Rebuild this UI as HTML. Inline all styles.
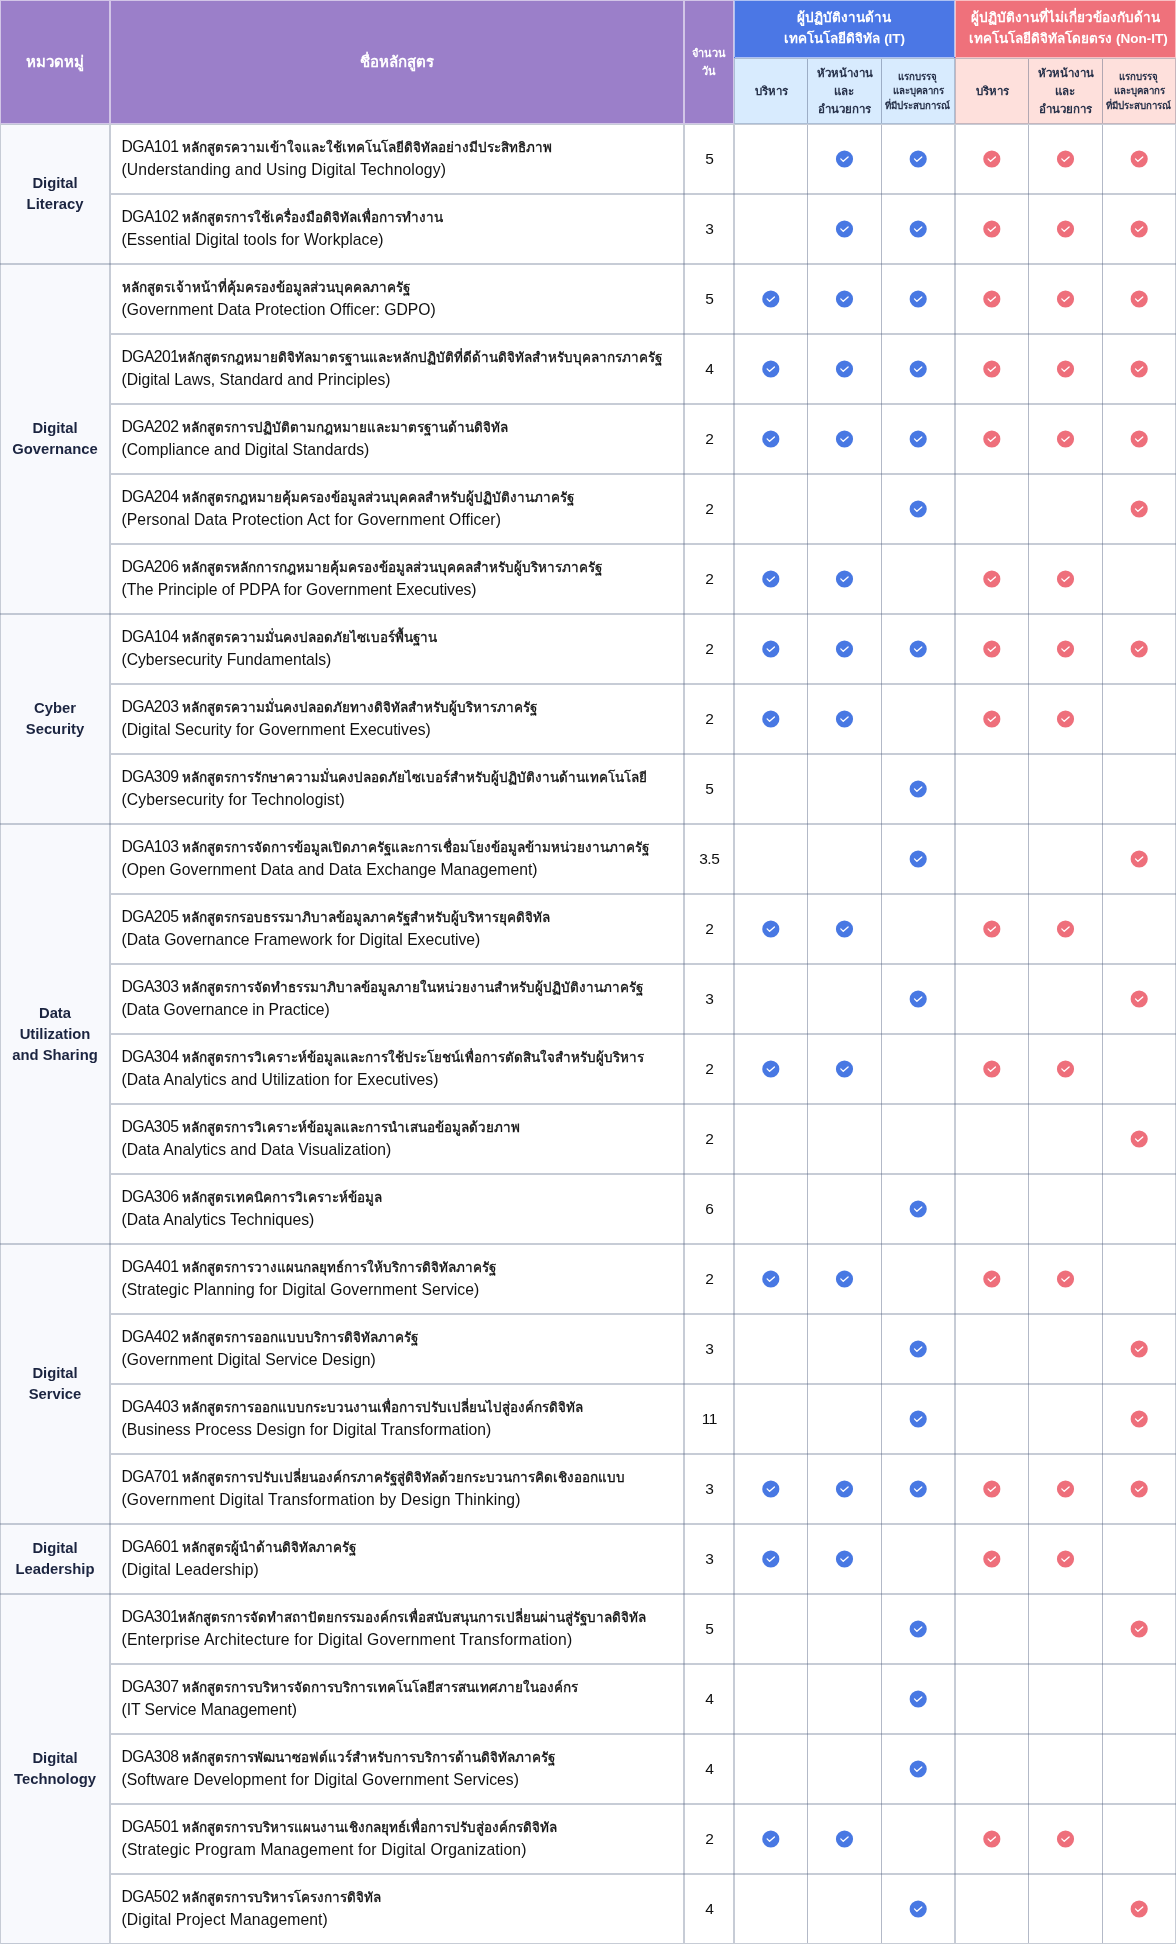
<!DOCTYPE html>
<html lang="th">
<head>
<meta charset="utf-8">
<title>DGA Courses</title>
<style>
*{margin:0;padding:0;box-sizing:border-box}
html,body{width:1176px;height:1944px;background:#fff;overflow:hidden}
body{font-family:"Liberation Sans",sans-serif;color:#111}
#tb{filter:opacity(1);position:relative;width:1176px;height:1944px;overflow:hidden;background:#fff}
#tb div,#tb svg{position:absolute}
.bg{top:0}
.cat{left:1px;width:108px;background:#f8f9fd;overflow:hidden}
.ct{left:0;right:0;top:50%;transform:translateY(-50%);text-align:center;font-weight:bold;font-size:14.8px;line-height:21px;color:#1b2440;white-space:nowrap}
.row{left:0;width:1176px;height:70px}
.l1,.l2{left:121.5px;height:23px;line-height:23px;font-size:15.7px;white-space:nowrap;overflow:hidden;color:#101010}
.l1{top:11px}
.cd{letter-spacing:-.55px}
.th{font-size:13.5px;-webkit-text-stroke:.3px #101010}
.l2{top:34px;width:560px}
.dy{left:685px;width:48px;top:23px;height:23px;line-height:23px;font-size:15.5px;letter-spacing:-.5px;padding-left:.5px;text-align:center;color:#101010}
.k{top:26px;width:18px;height:18px;overflow:visible}
.kb{fill:#4878e3}
.kr{fill:#ee6f7b}
.v,.hz{background:rgba(70,85,120,.3)}
.v1{background:rgba(70,85,120,.41)}
.w{background:rgba(255,255,255,.55)}
.h{color:#fff;font-weight:bold;text-align:center;white-space:nowrap;overflow:hidden}
.sh{color:#263049;font-weight:bold;text-align:center;white-space:nowrap;overflow:hidden}
</style>
</head>
<body>
<svg width="0" height="0" style="position:absolute"><defs><symbol id="ck" viewBox="0 0 18 18"><circle cx="9" cy="9" r="8.6"/><path d="M5.3 8.9 7.75 11.35 12.6 7" fill="none" stroke="#fff" stroke-width="1.3" stroke-linecap="round" stroke-linejoin="round"/></symbol></defs></svg>
<div id="tb">
<div class="bg" style="left:0;top:0;width:734px;height:124px;background:#9b7fc9"></div>
<div class="bg" style="left:734px;top:0;width:221px;height:58px;background:#4b77e5"></div>
<div class="bg" style="left:955px;top:0;width:221px;height:58px;background:#ef717b"></div>
<div class="bg" style="left:734px;top:58px;width:221px;height:66px;background:#d8ebfe"></div>
<div class="bg" style="left:955px;top:58px;width:221px;height:66px;background:#fee0dc"></div>
<div class="h" style="left:24.0px;top:48.5px;width:62.4px;height:26px;line-height:26px;font-size:15px">หมวดหมู่</div>
<div class="h" style="left:356.8px;top:48.5px;width:80.4px;height:26px;line-height:26px;font-size:15px">ชื่อหลักสูตร</div>
<div class="h" style="left:690.2px;top:44.0px;width:37.0px;height:18px;line-height:18px;font-size:11px">จำนวน</div>
<div class="h" style="left:700.0px;top:62.0px;width:17.0px;height:18px;line-height:18px;font-size:11px">วัน</div>
<div class="h" style="left:795.0px;top:7.0px;width:97.5px;height:21px;line-height:21px;font-size:13.5px">ผู้ปฏิบัติงานด้าน</div>
<div class="h" style="left:783.5px;top:28.0px;width:122.5px;height:21px;line-height:21px;font-size:13.5px">เทคโนโลยีดิจิทัล (IT)</div>
<div class="h" style="left:970.0px;top:7.0px;width:190.0px;height:21px;line-height:21px;font-size:13.5px">ผู้ปฏิบัติงานที่ไม่เกี่ยวข้องกับด้าน</div>
<div class="h" style="left:963.5px;top:28.0px;width:210.0px;height:21px;line-height:21px;font-size:13.5px">เทคโนโลยีดิจิทัลโดยตรง (Non-IT)</div>
<div class="sh" style="left:753.5px;top:82.0px;width:35.5px;height:18px;line-height:18px;font-size:11.5px">บริหาร</div>
<div class="sh" style="left:816.0px;top:64.0px;width:57.5px;height:18px;line-height:18px;font-size:11.5px">หัวหน้างาน</div>
<div class="sh" style="left:833.5px;top:82.0px;width:21.5px;height:18px;line-height:18px;font-size:11.5px">และ</div>
<div class="sh" style="left:816.0px;top:100.0px;width:57.5px;height:18px;line-height:18px;font-size:11.5px">อำนวยการ</div>
<div class="sh" style="left:896.0px;top:68.5px;width:42.5px;height:15px;line-height:15px;font-size:9.7px">แรกบรรจุ</div>
<div class="sh" style="left:890.0px;top:83.0px;width:56.0px;height:15px;line-height:15px;font-size:9.7px">และบุคลากร</div>
<div class="sh" style="left:882.5px;top:97.5px;width:70.0px;height:15px;line-height:15px;font-size:9.7px">ที่มีประสบการณ์</div>
<div class="sh" style="left:974.5px;top:82.0px;width:35.5px;height:18px;line-height:18px;font-size:11.5px">บริหาร</div>
<div class="sh" style="left:1037.0px;top:64.0px;width:57.5px;height:18px;line-height:18px;font-size:11.5px">หัวหน้างาน</div>
<div class="sh" style="left:1054.5px;top:82.0px;width:21.5px;height:18px;line-height:18px;font-size:11.5px">และ</div>
<div class="sh" style="left:1037.0px;top:100.0px;width:57.5px;height:18px;line-height:18px;font-size:11.5px">อำนวยการ</div>
<div class="sh" style="left:1117.0px;top:68.5px;width:42.5px;height:15px;line-height:15px;font-size:9.7px">แรกบรรจุ</div>
<div class="sh" style="left:1111.0px;top:83.0px;width:56.0px;height:15px;line-height:15px;font-size:9.7px">และบุคลากร</div>
<div class="sh" style="left:1103.5px;top:97.5px;width:70.0px;height:15px;line-height:15px;font-size:9.7px">ที่มีประสบการณ์</div>
<div class="cat" style="top:124px;height:140px"><div class="ct">Digital<br>Literacy</div></div>
<div class="cat" style="top:264px;height:350px"><div class="ct">Digital<br>Governance</div></div>
<div class="cat" style="top:614px;height:210px"><div class="ct">Cyber<br>Security</div></div>
<div class="cat" style="top:824px;height:420px"><div class="ct">Data<br>Utilization<br>and Sharing</div></div>
<div class="cat" style="top:1244px;height:280px"><div class="ct">Digital<br>Service</div></div>
<div class="cat" style="top:1524px;height:70px"><div class="ct">Digital<br>Leadership</div></div>
<div class="cat" style="top:1594px;height:350px"><div class="ct">Digital<br>Technology</div></div>
<div class="row" style="top:124px">
<div class="l1" style="width:431.0px"><span class="cd">DGA101 </span><span class="th">หลักสูตรความเข้าใจและใช้เทคโนโลยีดิจิทัลอย่างมีประสิทธิภาพ</span></div>
<div class="l2" style="letter-spacing:0.128px">(Understanding and Using Digital Technology)</div>
<div class="dy">5</div>
<svg class="k kb" style="left:835px"><use href="#ck" x="0.50"/></svg><svg class="k kb" style="left:909px"><use href="#ck" x="0.17"/></svg><svg class="k kr" style="left:982px"><use href="#ck" x="0.83"/></svg><svg class="k kr" style="left:1056px"><use href="#ck" x="0.50"/></svg><svg class="k kr" style="left:1130px"><use href="#ck" x="0.17"/></svg>
</div>
<div class="row" style="top:194px">
<div class="l1" style="width:333.5px"><span class="cd">DGA102 </span><span class="th">หลักสูตรการใช้เครื่องมือดิจิทัลเพื่อการทำงาน</span></div>
<div class="l2" style="letter-spacing:0.041px">(Essential Digital tools for Workplace)</div>
<div class="dy">3</div>
<svg class="k kb" style="left:835px"><use href="#ck" x="0.50"/></svg><svg class="k kb" style="left:909px"><use href="#ck" x="0.17"/></svg><svg class="k kr" style="left:982px"><use href="#ck" x="0.83"/></svg><svg class="k kr" style="left:1056px"><use href="#ck" x="0.50"/></svg><svg class="k kr" style="left:1130px"><use href="#ck" x="0.17"/></svg>
</div>
<div class="row" style="top:264px">
<div class="l1" style="width:303.7px"><span class="th">หลักสูตรเจ้าหน้าที่คุ้มครองข้อมูลส่วนบุคคลภาครัฐ</span></div>
<div class="l2" style="letter-spacing:-0.006px">(Government Data Protection Officer: GDPO)</div>
<div class="dy">5</div>
<svg class="k kb" style="left:761px"><use href="#ck" x="0.83"/></svg><svg class="k kb" style="left:835px"><use href="#ck" x="0.50"/></svg><svg class="k kb" style="left:909px"><use href="#ck" x="0.17"/></svg><svg class="k kr" style="left:982px"><use href="#ck" x="0.83"/></svg><svg class="k kr" style="left:1056px"><use href="#ck" x="0.50"/></svg><svg class="k kr" style="left:1130px"><use href="#ck" x="0.17"/></svg>
</div>
<div class="row" style="top:334px">
<div class="l1" style="width:558.4px"><span class="cd">DGA201</span><span class="th">หลักสูตรกฎหมายดิจิทัลมาตรฐานและหลักปฏิบัติที่ดีด้านดิจิทัลสำหรับบุคลากรภาครัฐ</span></div>
<div class="l2" style="letter-spacing:-0.034px">(Digital Laws, Standard and Principles)</div>
<div class="dy">4</div>
<svg class="k kb" style="left:761px"><use href="#ck" x="0.83"/></svg><svg class="k kb" style="left:835px"><use href="#ck" x="0.50"/></svg><svg class="k kb" style="left:909px"><use href="#ck" x="0.17"/></svg><svg class="k kr" style="left:982px"><use href="#ck" x="0.83"/></svg><svg class="k kr" style="left:1056px"><use href="#ck" x="0.50"/></svg><svg class="k kr" style="left:1130px"><use href="#ck" x="0.17"/></svg>
</div>
<div class="row" style="top:404px">
<div class="l1" style="width:397.9px"><span class="cd">DGA202 </span><span class="th">หลักสูตรการปฏิบัติตามกฎหมายและมาตรฐานด้านดิจิทัล</span></div>
<div class="l2" style="letter-spacing:0.005px">(Compliance and Digital Standards)</div>
<div class="dy">2</div>
<svg class="k kb" style="left:761px"><use href="#ck" x="0.83"/></svg><svg class="k kb" style="left:835px"><use href="#ck" x="0.50"/></svg><svg class="k kb" style="left:909px"><use href="#ck" x="0.17"/></svg><svg class="k kr" style="left:982px"><use href="#ck" x="0.83"/></svg><svg class="k kr" style="left:1056px"><use href="#ck" x="0.50"/></svg><svg class="k kr" style="left:1130px"><use href="#ck" x="0.17"/></svg>
</div>
<div class="row" style="top:474px">
<div class="l1" style="width:475.2px"><span class="cd">DGA204 </span><span class="th">หลักสูตรกฎหมายคุ้มครองข้อมูลส่วนบุคคลสำหรับผู้ปฏิบัติงานภาครัฐ</span></div>
<div class="l2" style="letter-spacing:0.092px">(Personal Data Protection Act for Government Officer)</div>
<div class="dy">2</div>
<svg class="k kb" style="left:909px"><use href="#ck" x="0.17"/></svg><svg class="k kr" style="left:1130px"><use href="#ck" x="0.17"/></svg>
</div>
<div class="row" style="top:544px">
<div class="l1" style="width:502.4px"><span class="cd">DGA206 </span><span class="th">หลักสูตรหลักการกฎหมายคุ้มครองข้อมูลส่วนบุคคลสำหรับผู้บริหารภาครัฐ</span></div>
<div class="l2" style="letter-spacing:-0.062px">(The Principle of PDPA for Government Executives)</div>
<div class="dy">2</div>
<svg class="k kb" style="left:761px"><use href="#ck" x="0.83"/></svg><svg class="k kb" style="left:835px"><use href="#ck" x="0.50"/></svg><svg class="k kr" style="left:982px"><use href="#ck" x="0.83"/></svg><svg class="k kr" style="left:1056px"><use href="#ck" x="0.50"/></svg>
</div>
<div class="row" style="top:614px">
<div class="l1" style="width:331.0px"><span class="cd">DGA104 </span><span class="th">หลักสูตรความมั่นคงปลอดภัยไซเบอร์พื้นฐาน</span></div>
<div class="l2" style="letter-spacing:-0.015px">(Cybersecurity Fundamentals)</div>
<div class="dy">2</div>
<svg class="k kb" style="left:761px"><use href="#ck" x="0.83"/></svg><svg class="k kb" style="left:835px"><use href="#ck" x="0.50"/></svg><svg class="k kb" style="left:909px"><use href="#ck" x="0.17"/></svg><svg class="k kr" style="left:982px"><use href="#ck" x="0.83"/></svg><svg class="k kr" style="left:1056px"><use href="#ck" x="0.50"/></svg><svg class="k kr" style="left:1130px"><use href="#ck" x="0.17"/></svg>
</div>
<div class="row" style="top:684px">
<div class="l1" style="width:434.3px"><span class="cd">DGA203 </span><span class="th">หลักสูตรความมั่นคงปลอดภัยทางดิจิทัลสำหรับผู้บริหารภาครัฐ</span></div>
<div class="l2" style="letter-spacing:0.015px">(Digital Security for Government Executives)</div>
<div class="dy">2</div>
<svg class="k kb" style="left:761px"><use href="#ck" x="0.83"/></svg><svg class="k kb" style="left:835px"><use href="#ck" x="0.50"/></svg><svg class="k kr" style="left:982px"><use href="#ck" x="0.83"/></svg><svg class="k kr" style="left:1056px"><use href="#ck" x="0.50"/></svg>
</div>
<div class="row" style="top:754px">
<div class="l1" style="width:538.8px"><span class="cd">DGA309 </span><span class="th">หลักสูตรการรักษาความมั่นคงปลอดภัยไซเบอร์สำหรับผู้ปฏิบัติงานด้านเทคโนโลยี</span></div>
<div class="l2" style="letter-spacing:0.094px">(Cybersecurity for Technologist)</div>
<div class="dy">5</div>
<svg class="k kb" style="left:909px"><use href="#ck" x="0.17"/></svg>
</div>
<div class="row" style="top:824px">
<div class="l1" style="width:539.9px"><span class="cd">DGA103 </span><span class="th">หลักสูตรการจัดการข้อมูลเปิดภาครัฐและการเชื่อมโยงข้อมูลข้ามหน่วยงานภาครัฐ</span></div>
<div class="l2" style="letter-spacing:0.018px">(Open Government Data and Data Exchange Management)</div>
<div class="dy">3.5</div>
<svg class="k kb" style="left:909px"><use href="#ck" x="0.17"/></svg><svg class="k kr" style="left:1130px"><use href="#ck" x="0.17"/></svg>
</div>
<div class="row" style="top:894px">
<div class="l1" style="width:446.9px"><span class="cd">DGA205 </span><span class="th">หลักสูตรกรอบธรรมาภิบาลข้อมูลภาครัฐสำหรับผู้บริหารยุคดิจิทัล</span></div>
<div class="l2" style="letter-spacing:-0.008px">(Data Governance Framework for Digital Executive)</div>
<div class="dy">2</div>
<svg class="k kb" style="left:761px"><use href="#ck" x="0.83"/></svg><svg class="k kb" style="left:835px"><use href="#ck" x="0.50"/></svg><svg class="k kr" style="left:982px"><use href="#ck" x="0.83"/></svg><svg class="k kr" style="left:1056px"><use href="#ck" x="0.50"/></svg>
</div>
<div class="row" style="top:964px">
<div class="l1" style="width:533.4px"><span class="cd">DGA303 </span><span class="th">หลักสูตรการจัดทำธรรมาภิบาลข้อมูลภายในหน่วยงานสำหรับผู้ปฏิบัติงานภาครัฐ</span></div>
<div class="l2" style="letter-spacing:-0.100px">(Data Governance in Practice)</div>
<div class="dy">3</div>
<svg class="k kb" style="left:909px"><use href="#ck" x="0.17"/></svg><svg class="k kr" style="left:1130px"><use href="#ck" x="0.17"/></svg>
</div>
<div class="row" style="top:1034px">
<div class="l1" style="width:524.7px"><span class="cd">DGA304 </span><span class="th">หลักสูตรการวิเคราะห์ข้อมูลและการใช้ประโยชน์เพื่อการตัดสินใจสำหรับผู้บริหาร</span></div>
<div class="l2" style="letter-spacing:0.027px">(Data Analytics and Utilization for Executives)</div>
<div class="dy">2</div>
<svg class="k kb" style="left:761px"><use href="#ck" x="0.83"/></svg><svg class="k kb" style="left:835px"><use href="#ck" x="0.50"/></svg><svg class="k kr" style="left:982px"><use href="#ck" x="0.83"/></svg><svg class="k kr" style="left:1056px"><use href="#ck" x="0.50"/></svg>
</div>
<div class="row" style="top:1104px">
<div class="l1" style="width:408.8px"><span class="cd">DGA305 </span><span class="th">หลักสูตรการวิเคราะห์ข้อมูลและการนำเสนอข้อมูลด้วยภาพ</span></div>
<div class="l2" style="letter-spacing:-0.011px">(Data Analytics and Data Visualization)</div>
<div class="dy">2</div>
<svg class="k kr" style="left:1130px"><use href="#ck" x="0.17"/></svg>
</div>
<div class="row" style="top:1174px">
<div class="l1" style="width:271.1px"><span class="cd">DGA306 </span><span class="th">หลักสูตรเทคนิคการวิเคราะห์ข้อมูล</span></div>
<div class="l2" style="letter-spacing:-0.018px">(Data Analytics Techniques)</div>
<div class="dy">6</div>
<svg class="k kb" style="left:909px"><use href="#ck" x="0.17"/></svg>
</div>
<div class="row" style="top:1244px">
<div class="l1" style="width:390.3px"><span class="cd">DGA401 </span><span class="th">หลักสูตรการวางแผนกลยุทธ์การให้บริการดิจิทัลภาครัฐ</span></div>
<div class="l2" style="letter-spacing:0.039px">(Strategic Planning for Digital Government Service)</div>
<div class="dy">2</div>
<svg class="k kb" style="left:761px"><use href="#ck" x="0.83"/></svg><svg class="k kb" style="left:835px"><use href="#ck" x="0.50"/></svg><svg class="k kr" style="left:982px"><use href="#ck" x="0.83"/></svg><svg class="k kr" style="left:1056px"><use href="#ck" x="0.50"/></svg>
</div>
<div class="row" style="top:1314px">
<div class="l1" style="width:313.5px"><span class="cd">DGA402 </span><span class="th">หลักสูตรการออกแบบบริการดิจิทัลภาครัฐ</span></div>
<div class="l2" style="letter-spacing:-0.008px">(Government Digital Service Design)</div>
<div class="dy">3</div>
<svg class="k kb" style="left:909px"><use href="#ck" x="0.17"/></svg><svg class="k kr" style="left:1130px"><use href="#ck" x="0.17"/></svg>
</div>
<div class="row" style="top:1384px">
<div class="l1" style="width:482.2px"><span class="cd">DGA403 </span><span class="th">หลักสูตรการออกแบบกระบวนงานเพื่อการปรับเปลี่ยนไปสู่องค์กรดิจิทัล</span></div>
<div class="l2" style="letter-spacing:0.034px">(Business Process Design for Digital Transformation)</div>
<div class="dy">11</div>
<svg class="k kb" style="left:909px"><use href="#ck" x="0.17"/></svg><svg class="k kr" style="left:1130px"><use href="#ck" x="0.17"/></svg>
</div>
<div class="row" style="top:1454px">
<div class="l1" style="width:527.4px"><span class="cd">DGA701 </span><span class="th">หลักสูตรการปรับเปลี่ยนองค์กรภาครัฐสู่ดิจิทัลด้วยกระบวนการคิดเชิงออกแบบ</span></div>
<div class="l2" style="letter-spacing:0.146px">(Government Digital Transformation by Design Thinking)</div>
<div class="dy">3</div>
<svg class="k kb" style="left:761px"><use href="#ck" x="0.83"/></svg><svg class="k kb" style="left:835px"><use href="#ck" x="0.50"/></svg><svg class="k kb" style="left:909px"><use href="#ck" x="0.17"/></svg><svg class="k kr" style="left:982px"><use href="#ck" x="0.83"/></svg><svg class="k kr" style="left:1056px"><use href="#ck" x="0.50"/></svg><svg class="k kr" style="left:1130px"><use href="#ck" x="0.17"/></svg>
</div>
<div class="row" style="top:1524px">
<div class="l1" style="width:248.2px"><span class="cd">DGA601 </span><span class="th">หลักสูตรผู้นำด้านดิจิทัลภาครัฐ</span></div>
<div class="l2" style="letter-spacing:0.063px">(Digital Leadership)</div>
<div class="dy">3</div>
<svg class="k kb" style="left:761px"><use href="#ck" x="0.83"/></svg><svg class="k kb" style="left:835px"><use href="#ck" x="0.50"/></svg><svg class="k kr" style="left:982px"><use href="#ck" x="0.83"/></svg><svg class="k kr" style="left:1056px"><use href="#ck" x="0.50"/></svg>
</div>
<div class="row" style="top:1594px">
<div class="l1" style="width:553.0px"><span class="cd">DGA301</span><span class="th">หลักสูตรการจัดทำสถาปัตยกรรมองค์กรเพื่อสนับสนุนการเปลี่ยนผ่านสู่รัฐบาลดิจิทัล</span></div>
<div class="l2" style="letter-spacing:0.181px">(Enterprise Architecture for Digital Government Transformation)</div>
<div class="dy">5</div>
<svg class="k kb" style="left:909px"><use href="#ck" x="0.17"/></svg><svg class="k kr" style="left:1130px"><use href="#ck" x="0.17"/></svg>
</div>
<div class="row" style="top:1664px">
<div class="l1" style="width:467.5px"><span class="cd">DGA307 </span><span class="th">หลักสูตรการบริหารจัดการบริการเทคโนโลยีสารสนเทศภายในองค์กร</span></div>
<div class="l2" style="letter-spacing:-0.057px">(IT Service Management)</div>
<div class="dy">4</div>
<svg class="k kb" style="left:909px"><use href="#ck" x="0.17"/></svg>
</div>
<div class="row" style="top:1734px">
<div class="l1" style="width:451.2px"><span class="cd">DGA308 </span><span class="th">หลักสูตรการพัฒนาซอฟต์แวร์สำหรับการบริการด้านดิจิทัลภาครัฐ</span></div>
<div class="l2" style="letter-spacing:0.047px">(Software Development for Digital Government Services)</div>
<div class="dy">4</div>
<svg class="k kb" style="left:909px"><use href="#ck" x="0.17"/></svg>
</div>
<div class="row" style="top:1804px">
<div class="l1" style="width:459.4px"><span class="cd">DGA501 </span><span class="th">หลักสูตรการบริหารแผนงานเชิงกลยุทธ์เพื่อการปรับสู่องค์กรดิจิทัล</span></div>
<div class="l2" style="letter-spacing:0.152px">(Strategic Program Management for Digital Organization)</div>
<div class="dy">2</div>
<svg class="k kb" style="left:761px"><use href="#ck" x="0.83"/></svg><svg class="k kb" style="left:835px"><use href="#ck" x="0.50"/></svg><svg class="k kr" style="left:982px"><use href="#ck" x="0.83"/></svg><svg class="k kr" style="left:1056px"><use href="#ck" x="0.50"/></svg>
</div>
<div class="row" style="top:1874px">
<div class="l1" style="width:271.1px"><span class="cd">DGA502 </span><span class="th">หลักสูตรการบริหารโครงการดิจิทัล</span></div>
<div class="l2" style="letter-spacing:0.116px">(Digital Project Management)</div>
<div class="dy">4</div>
<svg class="k kb" style="left:909px"><use href="#ck" x="0.17"/></svg><svg class="k kr" style="left:1130px"><use href="#ck" x="0.17"/></svg>
</div>
<div class="w" style="left:0px;top:0px;width:1176px;height:1px"></div>
<div class="w" style="left:0px;top:1px;width:1px;height:123px"></div>
<div class="w" style="left:1175px;top:1px;width:1px;height:57px"></div>
<div class="w" style="left:109px;top:1px;width:2px;height:123px"></div>
<div class="w" style="left:683px;top:1px;width:2px;height:123px"></div>
<div class="w" style="left:733px;top:1px;width:1px;height:123px"></div>
<div class="w" style="left:734px;top:1px;width:1px;height:56px"></div>
<div class="w" style="left:954px;top:1px;width:2px;height:56px"></div>
<div class="w" style="left:1px;top:123px;width:108px;height:1px"></div>
<div class="w" style="left:111px;top:123px;width:572px;height:1px"></div>
<div class="w" style="left:685px;top:123px;width:48px;height:1px"></div>
<div class="w" style="left:735px;top:57px;width:219px;height:1px"></div>
<div class="w" style="left:956px;top:57px;width:219px;height:1px"></div>
<div class="hz" style="left:734px;top:58px;width:442px;height:1px"></div>
<div class="v" style="left:734px;top:59px;width:1px;height:64px"></div>
<div class="v1" style="left:807px;top:59px;width:1px;height:64px"></div>
<div class="v1" style="left:881px;top:59px;width:1px;height:64px"></div>
<div class="v1" style="left:1028px;top:59px;width:1px;height:64px"></div>
<div class="v1" style="left:1102px;top:59px;width:1px;height:64px"></div>
<div class="v" style="left:954px;top:59px;width:2px;height:64px"></div>
<div class="v" style="left:1175px;top:59px;width:1px;height:64px"></div>
<div class="hz" style="left:734px;top:123px;width:442px;height:1px"></div>
<div class="hz" style="left:0px;top:124px;width:1176px;height:1px"></div>
<div class="hz" style="left:111px;top:193px;width:1065px;height:2px"></div>
<div class="hz" style="left:0px;top:263px;width:1176px;height:2px"></div>
<div class="hz" style="left:111px;top:333px;width:1065px;height:2px"></div>
<div class="hz" style="left:111px;top:403px;width:1065px;height:2px"></div>
<div class="hz" style="left:111px;top:473px;width:1065px;height:2px"></div>
<div class="hz" style="left:111px;top:543px;width:1065px;height:2px"></div>
<div class="hz" style="left:0px;top:613px;width:1176px;height:2px"></div>
<div class="hz" style="left:111px;top:683px;width:1065px;height:2px"></div>
<div class="hz" style="left:111px;top:753px;width:1065px;height:2px"></div>
<div class="hz" style="left:0px;top:823px;width:1176px;height:2px"></div>
<div class="hz" style="left:111px;top:893px;width:1065px;height:2px"></div>
<div class="hz" style="left:111px;top:963px;width:1065px;height:2px"></div>
<div class="hz" style="left:111px;top:1033px;width:1065px;height:2px"></div>
<div class="hz" style="left:111px;top:1103px;width:1065px;height:2px"></div>
<div class="hz" style="left:111px;top:1173px;width:1065px;height:2px"></div>
<div class="hz" style="left:0px;top:1243px;width:1176px;height:2px"></div>
<div class="hz" style="left:111px;top:1313px;width:1065px;height:2px"></div>
<div class="hz" style="left:111px;top:1383px;width:1065px;height:2px"></div>
<div class="hz" style="left:111px;top:1453px;width:1065px;height:2px"></div>
<div class="hz" style="left:0px;top:1523px;width:1176px;height:2px"></div>
<div class="hz" style="left:0px;top:1593px;width:1176px;height:2px"></div>
<div class="hz" style="left:111px;top:1663px;width:1065px;height:2px"></div>
<div class="hz" style="left:111px;top:1733px;width:1065px;height:2px"></div>
<div class="hz" style="left:111px;top:1803px;width:1065px;height:2px"></div>
<div class="hz" style="left:111px;top:1873px;width:1065px;height:2px"></div>
<div class="hz" style="left:0px;top:1943px;width:1176px;height:1px"></div>
<div class="v" style="left:0px;top:125px;width:1px;height:1818px"></div>
<div class="v" style="left:109px;top:125px;width:2px;height:1818px"></div>
<div class="v" style="left:683px;top:125px;width:2px;height:1818px"></div>
<div class="v" style="left:733px;top:125px;width:2px;height:1818px"></div>
<div class="v1" style="left:807px;top:125px;width:1px;height:1818px"></div>
<div class="v1" style="left:881px;top:125px;width:1px;height:1818px"></div>
<div class="v1" style="left:1028px;top:125px;width:1px;height:1818px"></div>
<div class="v1" style="left:1102px;top:125px;width:1px;height:1818px"></div>
<div class="v" style="left:954px;top:125px;width:2px;height:1818px"></div>
<div class="v" style="left:1175px;top:125px;width:1px;height:1818px"></div>
</div>
</body>
</html>
